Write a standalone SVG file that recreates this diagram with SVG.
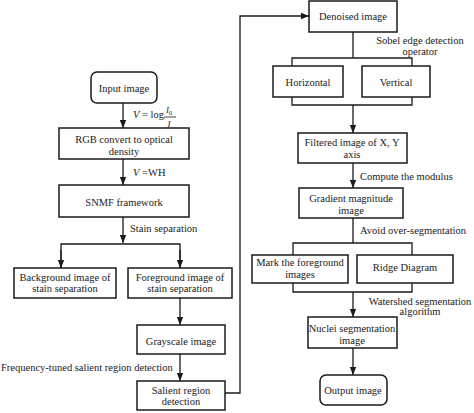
<svg xmlns="http://www.w3.org/2000/svg" width="474" height="413" viewBox="0 0 474 413">
<style>
.b{fill:#fff;stroke:#1a1a1a;stroke-width:1.5}
.t{font-family:"Liberation Serif","Times New Roman",serif;font-size:10.5px;fill:#1a1a1a}
.m{text-anchor:middle}
.c{fill:none;stroke:#1a1a1a;stroke-width:1.3}
.i{font-style:italic}
</style>
<defs>
<marker id="ah" markerUnits="userSpaceOnUse" markerWidth="8" markerHeight="8" viewBox="0 0 8 8" refX="8" refY="4" orient="auto">
<path d="M0,0.8 L8,4 L0,7.2 Z" fill="#1a1a1a"/>
</marker>
</defs>
<rect width="474" height="413" fill="#fff"/>
<g id="connectors">
<line class="c" x1="123" y1="103" x2="123" y2="128" marker-end="url(#ah)"/>
<line class="c" x1="123" y1="159" x2="123" y2="185" marker-end="url(#ah)"/>
<line class="c" x1="123" y1="217" x2="123" y2="243" marker-end="url(#ah)"/>
<polyline class="c" points="61,268 61,244 180,244 180,268"/>
<line class="c" x1="61" y1="250" x2="61" y2="268" marker-end="url(#ah)"/>
<line class="c" x1="180" y1="250" x2="180" y2="268" marker-end="url(#ah)"/>
<line class="c" x1="180" y1="298" x2="180" y2="325" marker-end="url(#ah)"/>
<line class="c" x1="180" y1="354" x2="180" y2="381" marker-end="url(#ah)"/>
<polyline class="c" points="225,393 240,393 240,16 309,16" marker-end="url(#ah)"/>
<polyline class="c" points="292,66 292,58 412,58 412,66"/>
<line class="c" x1="353" y1="32" x2="353" y2="58"/>
<polyline class="c" points="292,97 292,105 412,105 412,97"/>
<line class="c" x1="353" y1="105" x2="353" y2="133" marker-end="url(#ah)"/>
<line class="c" x1="353" y1="163" x2="353" y2="188" marker-end="url(#ah)"/>
<line class="c" x1="353" y1="218" x2="353" y2="243"/>
<polyline class="c" points="293,255 293,243 412,243 412,255"/>
<polyline class="c" points="293,283 293,292 412,292 412,283"/>
<line class="c" x1="353" y1="292" x2="353" y2="317" marker-end="url(#ah)"/>
<line class="c" x1="353" y1="348" x2="353" y2="375" marker-end="url(#ah)"/>
</g>
<g id="edge-labels" class="t">
<text x="133" y="118"><tspan class="i">V</tspan> = log</text>
<text x="169" y="113" class="m i" font-size="9">I<tspan font-style="normal" font-size="6" dy="2">0</tspan></text>
<line x1="164" y1="117" x2="176" y2="117" stroke="#1a1a1a" stroke-width="0.8"/>
<text x="169" y="127" class="m i" font-size="9">I</text>
<text x="133" y="175.5"><tspan class="i">V</tspan> =WH</text>
<text x="130" y="231.5">Stain separation</text>
<text x="1" y="370.5">Frequency-tuned salient region detection</text>
<text x="420" y="43.5" class="m">Sobel edge detection</text>
<text x="420" y="54.5" class="m">operator</text>
<text x="360" y="179.5">Compute the modulus</text>
<text x="360" y="233.5">Avoid over-segmentation</text>
<text x="420" y="304.5" class="m">Watershed segmentation</text>
<text x="420" y="314.5" class="m">algorithm</text>
</g>
<g id="input" class="t m"><rect class="b" x="91" y="72" width="66" height="31" rx="6"/><text x="124" y="91.5">Input image</text></g>
<g id="rgb" class="t m"><rect class="b" x="59" y="128" width="130" height="31"/><text x="124" y="142.5">RGB convert to optical</text><text x="124" y="154.5">density</text></g>
<g id="snmf" class="t m"><rect class="b" x="59" y="185" width="130" height="32"/><text x="124" y="205.5">SNMF framework</text></g>
<g id="background" class="t m"><rect class="b" x="14" y="268" width="102" height="30"/><text x="65" y="280.5">Background image of</text><text x="65" y="292">stain separation</text></g>
<g id="foreground" class="t m"><rect class="b" x="128" y="268" width="104" height="30"/><text x="180" y="280.5">Foreground image of</text><text x="180" y="292">stain separation</text></g>
<g id="grayscale" class="t m"><rect class="b" x="137" y="325" width="88" height="29"/><text x="181" y="344.5">Grayscale image</text></g>
<g id="salient" class="t m"><rect class="b" x="137" y="381" width="88" height="29"/><text x="181" y="393.5">Salient region</text><text x="181" y="404.5">detection</text></g>
<g id="denoised" class="t m"><rect class="b" x="309" y="1" width="88" height="31"/><text x="353" y="19.5">Denoised image</text></g>
<g id="horizontal" class="t m"><rect class="b" x="273" y="66" width="70" height="31"/><text x="308" y="85.5">Horizontal</text></g>
<g id="vertical" class="t m"><rect class="b" x="362" y="66" width="68" height="31"/><text x="396" y="85.5">Vertical</text></g>
<g id="filtered" class="t m"><rect class="b" x="298" y="133" width="109" height="30"/><text x="352" y="145.5">Filtered image of X, Y</text><text x="352" y="157.5">axis</text></g>
<g id="gradient" class="t m"><rect class="b" x="299" y="188" width="104" height="30"/><text x="351" y="201.5">Gradient magnitude</text><text x="351" y="213.5">image</text></g>
<g id="mark" class="t m"><rect class="b" x="252" y="255" width="96" height="28"/><text x="300" y="265.5">Mark the foreground</text><text x="300" y="277.5">images</text></g>
<g id="ridge" class="t m"><rect class="b" x="357" y="255" width="96" height="28"/><text x="405" y="270.5">Ridge Diagram</text></g>
<g id="nuclei" class="t m"><rect class="b" x="308" y="317" width="89" height="31"/><text x="352" y="331.5">Nuclei segmentation</text><text x="352" y="343.5">image</text></g>
<g id="output" class="t m"><rect class="b" x="320" y="375" width="67" height="30" rx="6"/><text x="353" y="393.5">Output image</text></g>
</svg>
